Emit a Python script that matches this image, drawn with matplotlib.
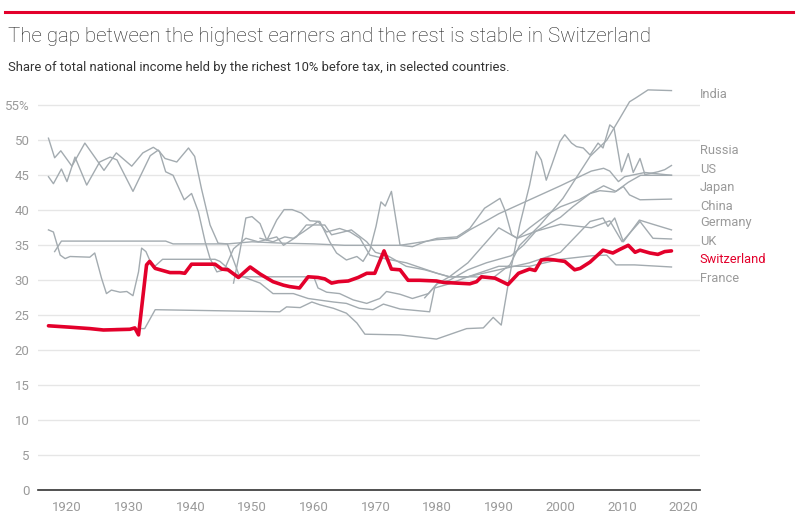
import matplotlib
matplotlib.use("Agg")
import matplotlib.pyplot as plt
from matplotlib.lines import Line2D

plt.rcParams['font.family'] = ['Roboto', 'DejaVu Sans']

# --- data (year, top 10% share in %) ---
france_years = [1917, 1918, 1919, 1920.8, 1922.9, 1924.5, 1926, 1928, 1930.5, 1932.3, 1934, 1935, 1936,
                1937.2, 1939, 1940.2, 1941.3, 1942.4, 1943.2, 1944.3, 1945.5, 1947, 1949, 1951, 1954,
                1955.1, 1957.2, 1958.8, 1961.8, 1962.9, 1964.8, 1966.1, 1968.6, 1970, 1972, 1975, 1978,
                1982, 1985, 1990, 1995, 2000, 2005, 2007.5, 2009, 2012, 2018]
france_vals = [50.3, 47.5, 48.5, 46.3, 49.6, 47.6, 45.7, 48.2, 46.3, 48.2, 49.0, 48.4, 45.5,
               45.0, 41.5, 42.4, 39.8, 35.5, 33.1, 31.2, 31.5, 34.5, 36.0, 35.5, 36.2,
               35.0, 36.2, 37.9, 37.9, 36.5, 36.9, 37.2, 35.5, 34.0, 33.5, 32.0, 31.5,
               30.5, 30.5, 32.0, 32.0, 33.0, 33.5, 33.6, 32.2, 32.2, 31.9]

us_years = [1917, 1917.8, 1919.1, 1920, 1921.3, 1923.2, 1925.3, 1927, 1928.1, 1930.7, 1932.4, 1933.5,
            1934.8, 1935.9, 1937.8, 1939.7, 1940.7, 1941.8, 1943.2, 1944.5, 1946, 1950, 1955, 1960,
            1965, 1970, 1974, 1979.9, 1983.2, 1985.3, 1988, 1990, 1995, 2000, 2005, 2007, 2008,
            2009.4, 2010.4, 2013.7, 2018]
us_vals = [44.8, 43.8, 45.9, 44.1, 47.6, 43.6, 46.9, 47.6, 47.2, 42.7, 45.8, 47.8,
           48.6, 47.4, 46.9, 48.9, 47.7, 43.1, 37.9, 35.3, 35.2, 35.5, 35.3, 35.2,
           35.0, 35.0, 35.0, 35.8, 36.0, 37.2, 38.5, 39.5, 41.5, 43.5, 45.6, 46.0, 45.6,
           44.1, 44.8, 45.4, 45.0]

uk_years = [1918, 1919.1, 1936, 1937.2, 1946, 1948, 1960, 1960.7, 1962.1, 1964.2, 1966.4, 1968.6,
            1970.7, 1971.8, 1974, 1976, 1978.6, 1980, 1982, 1985, 1988, 1990, 1993, 1996, 2000,
            2005, 2008, 2010, 2012.9, 2015, 2018]
uk_vals = [34.1, 35.6, 35.6, 35.2, 35.2, 30.5, 30.5, 28.9, 28.3, 28.1, 27.2, 26.7,
           27.4, 28.4, 28.0, 27.4, 28.1, 29.5, 30.5, 32.5, 35.5, 37.5, 36.0, 37.0, 38.0,
           37.5, 38.5, 35.5, 38.4, 36.0, 35.9]

germany_years = [1917, 1917.8, 1918.9, 1919.7, 1920.5, 1923.7, 1924.5, 1925.6, 1926.4, 1927.2, 1928.6,
                 1929.7, 1930.7, 1931.6, 1932.1, 1932.8, 1933.4, 1934, 1935.5, 1944, 1944.8, 1947,
                 1951.3, 1953.4, 1956.7, 1959.1, 1963.2, 1965.3, 1967.4, 1969.6, 1971.3, 1974,
                 1978.8, 1979.6, 1982, 1985, 1990, 1995, 2000, 2004.8, 2006.9, 2007.7, 2008.8,
                 2010.2, 2012.8, 2015, 2018]
germany_vals = [37.2, 36.9, 33.6, 33.1, 33.4, 33.3, 33.9, 30.3, 28.1, 28.6, 28.3,
                28.4, 27.8, 31.2, 34.6, 34.1, 32.9, 31.8, 33.0, 33.0, 32.7, 31.0,
                29.6, 28.1, 28.1, 27.4, 26.9, 26.7, 26.0, 25.8, 26.6, 25.9,
                25.5, 28.9, 29.5, 30.5, 31.5, 32.5, 34.0, 38.4, 38.9, 37.7, 38.9,
                35.5, 38.6, 38.0, 37.2]

russia_years = [1928, 1932.6, 1934.3, 1954.5, 1955.6, 1957.8, 1959.7, 1961, 1963.2, 1965.3, 1967,
                1968.3, 1974, 1979.9, 1984.8, 1987.5, 1989.1, 1990.4, 1991.5, 1992.1, 1993.4, 1995,
                1996.1, 1996.9, 1997.7, 1998.6, 1999.9, 2000.7, 2001.8, 2002.6, 2003.7, 2004.8,
                2006.1, 2006.9, 2008, 2008.7, 2009.9, 2011, 2011.8, 2012.9, 2013.7, 2015.8,
                2016.9, 2018]
russia_vals = [23.1, 23.1, 25.8, 25.5, 26.2, 26.1, 26.9, 26.5, 26.0, 25.3, 23.9,
               22.3, 22.2, 21.6, 23.1, 23.2, 24.7, 23.6, 29.3, 32.2, 37.9, 43.6,
               48.4, 47.2, 44.3, 46.5, 49.8, 50.8, 49.6, 49.1, 48.9, 47.9,
               49.6, 48.9, 52.2, 51.7, 45.5, 48.1, 45.4, 47.4, 45.1, 45.5,
               45.8, 46.4]

japan_years = [1947, 1948, 1949, 1950, 1951.3, 1952.4, 1954, 1955.2, 1956.5, 1958, 1959.4, 1961,
               1962.6, 1963.7, 1965.3, 1967, 1968, 1969.1, 1970.1, 1970.9, 1971.6, 1972.6, 1974,
               1976, 1978, 1980, 1983.2, 1985.3, 1987.7, 1990.2, 1991, 1992.1, 1993, 1995, 1998,
               2000, 2003, 2005, 2007, 2009, 2011, 2013, 2018]
japan_vals = [29.6, 34.0, 38.9, 39.1, 38.1, 35.7, 38.6, 40.1, 40.1, 39.6, 38.5, 38.4,
              35.5, 33.9, 32.9, 33.4, 32.7, 34.3, 37.7, 41.2, 40.6, 42.7, 35.0,
              34.8, 35.5, 36.0, 36.2, 37.4, 40.3, 41.7, 40.0, 36.5, 36.0, 37.5, 39.5,
              40.5, 41.5, 42.5, 43.5, 42.7, 44.0, 45.0, 45.0]

india_years = [1951.3, 1953.4, 1955.3, 1956.7, 1958.3, 1960.7, 1962.1, 1964.2, 1965.9, 1967.5, 1969.1,
               1972, 1975, 1980, 1982, 1986, 1989, 1991.8, 1993.4, 1996.7, 2000.4, 2004.8, 2007.5,
               2009.6, 2011.2, 2012.3, 2014.2, 2018]
india_vals = [36.0, 35.5, 36.2, 36.0, 36.9, 38.4, 36.9, 37.4, 36.9, 36.0, 33.6,
              33.0, 32.5, 31.0, 30.5, 30.5, 30.3, 32.2, 35.0, 37.9, 41.7, 47.7, 50.0,
              53.1, 55.5, 56.1, 57.2, 57.1]

china_years = [1978, 1980, 1982, 1985, 1988, 1990, 1992, 1994, 1996, 1998, 2000, 2002, 2004.8,
               2006.4, 2008.8, 2010.2, 2011.2, 2012.9, 2018]
china_vals = [27.5, 29.5, 30.0, 31.5, 32.5, 33.0, 33.5, 35.0, 37.0, 38.0, 39.0, 40.5, 42.4,
              42.8, 42.6, 43.4, 42.2, 41.5, 41.6]

swiss_years = [1917, 1920.5, 1923.7, 1925.9, 1930.2, 1931, 1931.6, 1932.9, 1933.4, 1934.3, 1935.1,
               1936.7, 1938.3, 1939.1, 1940.2, 1944, 1945.1, 1946.1, 1947.8, 1948.3, 1949.7, 1951.3,
               1953.4, 1955.1, 1956.1, 1957.7, 1959.1, 1960.7, 1961.8, 1962.9, 1964, 1965.6, 1967.2,
               1968.6, 1969.9, 1971.4, 1972.6, 1974, 1975.3, 1977.2, 1979.9, 1981, 1985.3, 1986.4,
               1987.2, 1989.4, 1991.5, 1993.2, 1995, 1995.9, 1996.9, 1998, 1999.1, 2000.7, 2002.3,
               2003.2, 2004.8, 2006.9, 2008.5, 2009.6, 2011, 2012.1, 2012.9, 2014.5, 2015.8,
               2016.9, 2018]
swiss_vals = [23.5, 23.3, 23.1, 22.9, 23.0, 23.2, 22.2, 32.2, 32.7, 31.7, 31.5,
              31.1, 31.1, 31.0, 32.3, 32.3, 31.6, 31.5, 30.4, 30.8, 31.9, 30.9,
              29.8, 29.3, 29.1, 28.9, 30.5, 30.4, 30.2, 29.6, 29.8, 29.9, 30.4,
              31.0, 31.0, 34.2, 31.6, 31.5, 30.0, 30.0, 29.9, 29.7, 29.5, 29.8,
              30.5, 30.3, 29.4, 31.0, 31.6, 31.4, 32.9, 33.0, 32.9, 32.7, 31.5,
              31.7, 32.6, 34.3, 33.9, 34.4, 35.0, 34.0, 34.3, 33.9, 33.7,
              34.1, 34.2]

label_names = ["India", "Russia", "US", "Japan", "China", "Germany", "UK", "Switzerland", "France"]
label_pos = [56.6, 48.6, 45.8, 43.3, 40.6, 38.2, 35.6, 32.9, 30.3]

y_ticks = [0, 5, 10, 15, 20, 25, 30, 35, 40, 45, 50, 55]
x_ticks = [1920, 1930, 1940, 1950, 1960, 1970, 1980, 1990, 2000, 2010, 2020]

GREY = "#a3abb0"
RED = "#e3002b"
TXT = "#9a9a9a"

fig = plt.figure(figsize=(7.98, 5.19), dpi=100)
ax = fig.add_axes([0.0476, 0.0553, 0.8294, 0.7823])

grey_series = [(france_years, france_vals), (us_years, us_vals), (uk_years, uk_vals),
               (germany_years, germany_vals), (russia_years, russia_vals), (japan_years, japan_vals),
               (india_years, india_vals), (china_years, china_vals)]
for xs, ys in grey_series:
    ax.plot(xs, ys, color=GREY, lw=1.0, solid_joinstyle="round", zorder=3)

ax.plot(swiss_years, swiss_vals, color=RED, lw=2.6, solid_joinstyle="round",
        solid_capstyle="round", zorder=4)

ax.set_xlim(1915.3, 2022.6)
ax.set_ylim(0, 58)
ax.set_yticks(y_ticks)
ax.set_yticklabels([str(t) if t != 55 else "55%" for t in y_ticks])
ax.set_xticks(x_ticks)
ax.tick_params(length=0, labelsize=9.5, labelcolor=TXT)
ax.tick_params(axis="x", pad=8)
ax.tick_params(axis="y", pad=6)
ax.grid(axis="y", color="#e6e6e6", lw=1.0, zorder=0)
for s in ["top", "right", "left"]:
    ax.spines[s].set_visible(False)
ax.spines["bottom"].set_color("#333333")
ax.spines["bottom"].set_linewidth(1.2)
ax.set_axisbelow(True)

for name, v in zip(label_names, label_pos):
    ax.text(2022.6, v, name, color=RED if name == "Switzerland" else TXT,
            fontsize=9.3, va="center", ha="left", clip_on=False)

# red rule on top
fig.add_artist(Line2D([5 / 798, 793 / 798], [1 - 12 / 519, 1 - 12 / 519], color=RED, lw=2.2))
fig.text(8 / 798, 1 - 37 / 519, "The gap between the highest earners and the rest is stable in Switzerland",
         fontsize=14.8, color="#222222", va="center", ha="left", fontweight="light")
fig.text(8 / 798, 1 - 67 / 519,
         "Share of total national income held by the richest 10% before tax, in selected countries.",
         fontsize=9.4, color="#333333", va="center", ha="left")

fig.savefig("out.png", dpi=100)
